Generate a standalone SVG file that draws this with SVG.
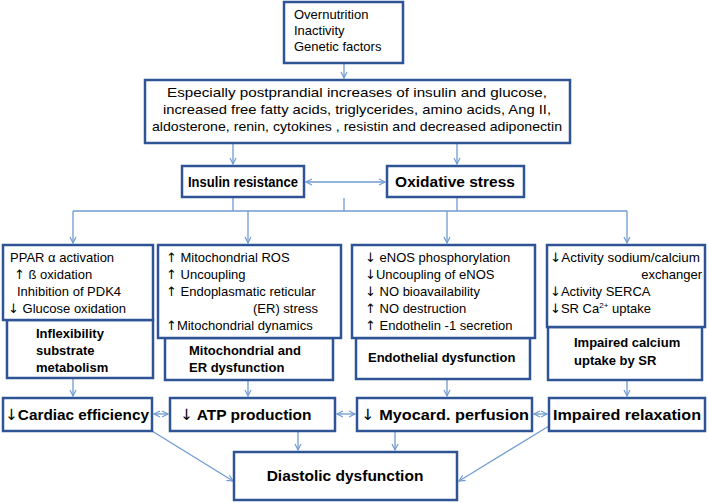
<svg xmlns="http://www.w3.org/2000/svg" width="709" height="503" viewBox="0 0 709 503">
<defs>
<marker id="a" markerWidth="10" markerHeight="10" refX="8" refY="5" orient="auto-start-reverse" markerUnits="userSpaceOnUse"><path d="M2,2 L8,5 L2,8" fill="none" stroke="#6f9bd1" stroke-width="1.2"/></marker>
</defs>
<style>
rect{fill:#fff;stroke:#2f5496;stroke-width:2.5}
.c line{stroke:#6f9bd1;stroke-width:1.3;fill:none}
text{font-family:"Liberation Sans",Arial,sans-serif;fill:#000;font-size:13px}
.b{font-weight:bold}
.h{font-size:15.5px;font-weight:bold}
.r{font-family:"DejaVu Sans",sans-serif;fill:#000;font-weight:normal}
</style>
<g class="c">
<line x1="344" y1="63" x2="344" y2="78" marker-end="url(#a)"/>
<line x1="233" y1="143" x2="233" y2="164" marker-end="url(#a)"/>
<line x1="457" y1="143" x2="457" y2="164" marker-end="url(#a)"/>
<line x1="306" y1="182" x2="385" y2="182" marker-start="url(#a)" marker-end="url(#a)"/>
<line x1="233" y1="198" x2="233" y2="211"/>
<line x1="457" y1="198" x2="457" y2="211"/>
<line x1="73" y1="211" x2="627" y2="211"/>
<line x1="344" y1="198" x2="344" y2="211"/>
<line x1="73" y1="211" x2="73" y2="243" marker-end="url(#a)"/>
<line x1="248" y1="211" x2="248" y2="243" marker-end="url(#a)"/>
<line x1="447" y1="211" x2="447" y2="243" marker-end="url(#a)"/>
<line x1="627" y1="211" x2="627" y2="243" marker-end="url(#a)"/>
<line x1="73" y1="379" x2="73" y2="396" marker-end="url(#a)"/>
<line x1="248" y1="381" x2="248" y2="396" marker-end="url(#a)"/>
<line x1="447" y1="379" x2="447" y2="396" marker-end="url(#a)"/>
<line x1="627" y1="381" x2="627" y2="396" marker-end="url(#a)"/>
<line x1="154" y1="414" x2="168" y2="414" marker-start="url(#a)" marker-end="url(#a)"/>
<line x1="337" y1="414" x2="355" y2="414" marker-start="url(#a)" marker-end="url(#a)"/>
<line x1="534" y1="414" x2="547" y2="414" marker-start="url(#a)" marker-end="url(#a)"/>
<line x1="152" y1="431" x2="233" y2="481" marker-end="url(#a)"/>
<line x1="298" y1="432" x2="298" y2="450" marker-end="url(#a)"/>
<line x1="395" y1="432" x2="395" y2="450" marker-end="url(#a)"/>
<line x1="549" y1="426" x2="459" y2="481" marker-end="url(#a)"/>
</g>
<g id="n1"><rect x="284" y="2" width="119" height="61"/>
<text x="294" y="19">Overnutrition</text><text x="294" y="35">Inactivity</text><text x="294" y="51">Genetic factors</text></g>
<g id="n2"><rect x="145" y="80" width="425" height="63"/>
<text x="357" y="97" text-anchor="middle" textLength="380" lengthAdjust="spacingAndGlyphs">Especially postprandial increases of insulin and glucose,</text>
<text x="357" y="114" text-anchor="middle" textLength="388" lengthAdjust="spacingAndGlyphs">increased free fatty acids, triglycerides, amino acids, Ang II,</text>
<text x="357" y="131" text-anchor="middle" textLength="410" lengthAdjust="spacingAndGlyphs">aldosterone, renin, cytokines , resistin and decreased adiponectin</text></g>
<g id="n3"><rect x="182" y="166" width="122" height="31"/><text class="h" x="243" y="187" text-anchor="middle" textLength="110" lengthAdjust="spacingAndGlyphs">Insulin resistance</text></g>
<g id="n4"><rect x="387" y="166" width="137" height="31"/><text class="h" x="455" y="187" text-anchor="middle">Oxidative stress</text></g>
<g id="n5"><rect x="7" y="320" width="146" height="58"/>
<text class="b" x="36" y="338">Inflexibility</text><text class="b" x="36" y="355">substrate</text><text class="b" x="36" y="372">metabolism</text>
<rect x="3" y="245" width="150" height="75"/>
<text x="10" y="262">PPAR α activation</text><text x="14" y="279"><tspan class="r">↑</tspan> ß oxidation</text><text x="17" y="296">Inhibition of PDK4</text><text x="8" y="313" textLength="118" lengthAdjust="spacingAndGlyphs"><tspan class="r">↓</tspan> Glucose oxidation</text></g>
<g id="n6"><rect x="165" y="338" width="168" height="42"/>
<text class="b" x="189" y="355">Mitochondrial and</text><text class="b" x="189" y="372">ER dysfunction</text>
<rect x="158" y="245" width="183" height="93"/>
<text x="166" y="262"><tspan class="r">↑</tspan> Mitochondrial ROS</text><text x="166" y="279"><tspan class="r">↑</tspan> Uncoupling</text><text x="166" y="296"><tspan class="r">↑</tspan> Endoplasmatic reticular</text><text x="318" y="313" text-anchor="end">(ER)  stress</text><text x="166" y="330"><tspan class="r">↑</tspan>Mitochondrial  dynamics</text></g>
<g id="n7"><rect x="356" y="338" width="174" height="41"/>
<text class="b" x="368" y="362">Endothelial dysfunction</text>
<rect x="352" y="245" width="183" height="93"/>
<text x="365" y="262"><tspan class="r">↓</tspan> eNOS phosphorylation</text><text x="365" y="279"><tspan class="r">↓</tspan>Uncoupling of eNOS</text><text x="365" y="296"><tspan class="r">↓</tspan> NO bioavailability</text><text x="365" y="313"><tspan class="r">↑</tspan> NO destruction</text><text x="365" y="330"><tspan class="r">↑</tspan> Endothelin -1 secretion</text></g>
<g id="n8"><rect x="548" y="327" width="154" height="53"/>
<text class="b" x="574" y="347">Impaired calcium</text><text class="b" x="574" y="365">uptake by SR</text>
<rect x="547" y="245" width="158" height="82"/>
<text x="550" y="262" textLength="150" lengthAdjust="spacingAndGlyphs"><tspan class="r">↓</tspan>Activity sodium/calcium</text><text x="702" y="279" text-anchor="end">exchanger</text><text x="550" y="296"><tspan class="r">↓</tspan>Activity SERCA</text><text x="550" y="313"><tspan class="r">↓</tspan>SR Ca<tspan font-size="8" dy="-5">2+</tspan><tspan dy="5"> uptake</tspan></text></g>
<g id="n9"><rect x="3" y="398" width="149" height="33"/><text class="h" x="5" y="420" textLength="144" lengthAdjust="spacingAndGlyphs"><tspan class="r">↓</tspan>Cardiac efficiency</text></g>
<g id="n10"><rect x="170" y="398" width="165" height="33"/><text class="h" x="180" y="420"><tspan class="r">↓</tspan> ATP production</text></g>
<g id="n11"><rect x="357" y="398" width="175" height="33"/><text class="h" x="361" y="420" textLength="168" lengthAdjust="spacingAndGlyphs"><tspan class="r">↓</tspan> Myocard. perfusion</text></g>
<g id="n12"><rect x="549" y="398" width="156" height="33"/><text class="h" x="627" y="420" text-anchor="middle" textLength="148" lengthAdjust="spacingAndGlyphs">Impaired relaxation</text></g>
<g id="n13"><rect x="234" y="452" width="223" height="48"/><text class="h" x="345" y="481" text-anchor="middle">Diastolic dysfunction</text></g>
</svg>
